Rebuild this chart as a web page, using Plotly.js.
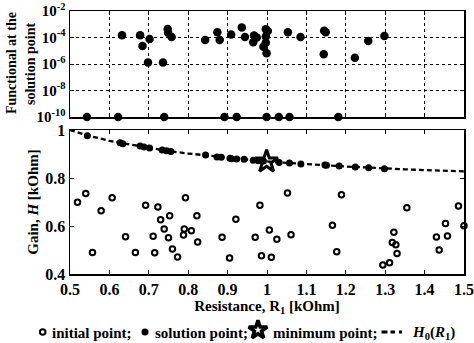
<!DOCTYPE html>
<html><head><meta charset="utf-8">
<script src="https://cdn.plot.ly/plotly-3.0.1.min.js"></script>
<style>html,body{margin:0;padding:0;background:#fff}#chart{width:474px;height:343px}</style>
</head><body><div id="chart"></div>
<script>
// Top panel: functional value at the solution point vs R1
const funcR = [0.543,0.622,0.632,0.678,0.684,0.702,0.698,0.736,0.739,0.748,0.749,0.758,0.843,0.874,0.880,0.892,0.909,0.923,0.936,0.944,0.967,0.965,0.974,0.991,0.997,1.002,0.997,0.997,0.999,0.999,1.030,1.057,1.053,1.085,1.145,1.149,1.144,1.181,1.223,1.257,1.298];
const funcVal = [1e-10,1e-10,1.5e-4,1.5e-4,2.3e-5,7.8e-5,1.3e-6,1.3e-6,1e-10,4.4e-4,2.3e-4,1.1e-4,6.5e-5,2.5e-4,6.5e-5,1e-10,1.7e-4,1e-10,5.7e-4,1.1e-4,1.4e-4,4.4e-5,1.0e-4,2.0e-5,4.2e-4,3.1e-4,1.2e-4,4.1e-5,6.5e-6,1e-10,1e-10,1e-10,2.5e-4,1.1e-4,3.2e-4,2.5e-4,5.4e-6,1e-10,3.0e-6,5.5e-5,1.3e-4];
const funcTicks = [1e-10,1e-8,1e-6,1e-4,1e-2];
const funcTickText = ['10<sup>-10</sup>','10<sup>-8</sup>','10<sup>-6</sup>','10<sup>-4</sup>','10<sup>-2</sup>'];

// Bottom panel: initial points
const initR = [0.519,0.540,0.579,0.607,0.557,0.641,0.666,0.692,0.711,0.715,0.723,0.730,0.739,0.753,0.750,0.760,0.773,0.793,0.788,0.790,0.808,0.822,0.824,0.886,0.905,0.921,0.986,1.011,1.177,1.294,1.311,1.330,1.437,0.982,0.970,1.006,1.025,1.052,1.061,1.166,1.189,1.355,1.322,1.318,1.327,1.430,1.453,1.458,1.486,1.500];
const initH = [0.699,0.735,0.664,0.718,0.490,0.555,0.490,0.686,0.557,0.489,0.679,0.626,0.588,0.643,0.551,0.504,0.471,0.718,0.562,0.587,0.580,0.643,0.533,0.553,0.467,0.628,0.476,0.470,0.493,0.438,0.447,0.485,0.500,0.686,0.553,0.583,0.545,0.738,0.564,0.603,0.730,0.676,0.574,0.531,0.522,0.554,0.610,0.558,0.683,0.601];

// Bottom panel: solution points
const solR = [0.544,0.627,0.634,0.678,0.688,0.702,0.734,0.745,0.756,0.844,0.873,0.884,0.906,0.923,0.910,0.942,0.965,0.978,0.991,1.031,1.057,1.086,1.147,1.151,1.183,1.224,1.258,1.298];
const solH = [0.976,0.947,0.943,0.933,0.929,0.925,0.917,0.914,0.910,0.896,0.887,0.886,0.882,0.879,0.880,0.878,0.874,0.872,0.871,0.865,0.862,0.858,0.854,0.853,0.850,0.846,0.843,0.839];

// Minimum point
const minR = [0.999];
const minH = [0.868];

// H0(R1) curve
const curveR = [0.5,0.55,0.6,0.65,0.7,0.75,0.8,0.85,0.9,0.95,1.0,1.05,1.1,1.15,1.2,1.25,1.3,1.35,1.4,1.45,1.5];
const curveH = [1.0,0.975,0.955,0.94,0.926,0.912,0.902,0.893,0.884,0.877,0.869,0.863,0.857,0.853,0.848,0.844,0.839,0.836,0.833,0.830,0.828];

const xTicks = [0.5,0.6,0.7,0.8,0.9,1,1.1,1.2,1.3,1.4,1.5];
const xTickText = ['0.5','0.6','0.7','0.8','0.9','1','1.1','1.2','1.3','1.4','1.5'];
const hTicks = [0.4,0.6,0.8,1];
const hTickText = ['0.4','0.6','0.8','1'];

// Legend labels and titles
const legendLabels = ['initial point;','solution point;','minimum point;','<i>H</i><sub>0</sub>(<i>R</i><sub>1</sub>)'];
const topTitleLines = ['Functional at the','solution point'];

const W = 474, H = 343;
const fam = 'Liberation Serif, Times New Roman, serif';
const F = {family:fam, size:14, color:'#000', weight:'bold'};
const TF = {family:fam, size:15, color:'#000', weight:'bold'};
const KF = {family:fam, size:16, color:'#000', weight:'bold'};
const px = v => v / W;
const py = v => (H - v) / H;

const openMarker = {color:'#000', size:5.5, symbol:'circle-open', line:{color:'#000', width:2}};

const traces = [
  {x:funcR, y:funcVal, xaxis:'x', yaxis:'y', type:'scatter', mode:'markers', cliponaxis:false,
   marker:{color:'#000', size:8.5}},
  {x:curveR, y:curveH, xaxis:'x2', yaxis:'y2', type:'scatter', mode:'lines',
   line:{color:'#000', width:2.3, dash:'5px,3px'}},
  {x:initR, y:initH, xaxis:'x2', yaxis:'y2', type:'scatter', mode:'markers', cliponaxis:false,
   marker:openMarker},
  {x:solR, y:solH, xaxis:'x2', yaxis:'y2', type:'scatter', mode:'markers',
   marker:{color:'#000', size:7}},
  {x:minR, y:minH, xaxis:'x2', yaxis:'y2', type:'scatter', mode:'markers', cliponaxis:false,
   marker:{color:'#000', size:17, symbol:'star-open', line:{color:'#000', width:3}}},
  // legend symbols (on a hidden pixel-scaled axis)
  {x:[42.7], y:[0.5], xaxis:'x3', yaxis:'y3', type:'scatter', mode:'markers', cliponaxis:false,
   marker:openMarker},
  {x:[145], y:[0.5], xaxis:'x3', yaxis:'y3', type:'scatter', mode:'markers', cliponaxis:false,
   marker:{color:'#000', size:7}},
  {x:[258], y:[0.6], xaxis:'x3', yaxis:'y3', type:'scatter', mode:'markers', cliponaxis:false,
   marker:{color:'#000', size:14, symbol:'star-open', line:{color:'#000', width:3.5}}},
  {x:[381.5,387.5,null,390.5,395,null,399,402], y:[0.5,0.5,null,0.5,0.5,null,0.5,0.5], xaxis:'x3', yaxis:'y3', type:'scatter', mode:'lines', cliponaxis:false,
   line:{color:'#000', width:3}}
];

const axBase = {showline:true, linecolor:'#000', linewidth:1.5, mirror:'ticks', ticks:'inside', ticklen:4, tickcolor:'#000', tickwidth:1, zeroline:false, tickfont:KF};
const xDom = [px(70), px(464)];

const annotations = [
  {text:legendLabels[0], x:px(50), y:py(333)},
  {text:legendLabels[1], x:px(153), y:py(333)},
  {text:legendLabels[2], x:px(271), y:py(333)},
  {text:legendLabels[3], x:px(410), y:py(333)}
].map(a => Object.assign({xref:'paper', yref:'paper', xanchor:'left', yanchor:'middle', showarrow:false, font:TF}, a))
.concat([
  {text:topTitleLines[0], x:px(12), y:py(63)},
  {text:topTitleLines[1], x:px(31), y:py(64)}
].map(a => Object.assign({xref:'paper', yref:'paper', xanchor:'center', yanchor:'middle', textangle:-90, showarrow:false, font:F}, a)));

const layout = {
  width:W, height:H,
  margin:{l:0, r:0, t:0, b:0},
  paper_bgcolor:'#fff', plot_bgcolor:'rgba(0,0,0,0)',
  font:F,
  showlegend:false,
  annotations: annotations,
  xaxis:Object.assign({}, axBase, {domain:xDom, anchor:'y', range:[0.5,1.5], tickvals:xTicks, showticklabels:false,
    showgrid:true, gridcolor:'#000', griddash:'dot', gridwidth:1}),
  yaxis:Object.assign({}, axBase, {domain:[py(117), py(11)], anchor:'x', type:'log', range:[-10,-2], tickvals:funcTicks, ticktext:funcTickText,
    tickfont:TF, showgrid:true, gridcolor:'#000', griddash:'dot', gridwidth:1}),
  xaxis2:Object.assign({}, axBase, {domain:xDom, anchor:'y2', range:[0.5,1.5], tickvals:xTicks, ticktext:xTickText, showgrid:false,
    title:{text:'Resistance, R<sub>1</sub> [kOhm]', font:TF, standoff:1}}),
  yaxis2:Object.assign({}, axBase, {domain:[py(274), py(130)], anchor:'x2', range:[0.4,1], tickvals:hTicks, ticktext:hTickText, showgrid:false,
    title:{text:'Gain, <i>H</i> [kOhm]', font:TF, standoff:3}}),
  xaxis3:{domain:[0,1], anchor:'y3', range:[0,W], visible:false, fixedrange:true},
  yaxis3:{domain:[py(342), py(322)], anchor:'x3', range:[0,1], visible:false, fixedrange:true}
};
traces.forEach(t => { t.showlegend = false; t.hoverinfo = 'skip'; });

Plotly.newPlot('chart', traces, layout, {displayModeBar:false, staticPlot:true});
</script></body></html>
